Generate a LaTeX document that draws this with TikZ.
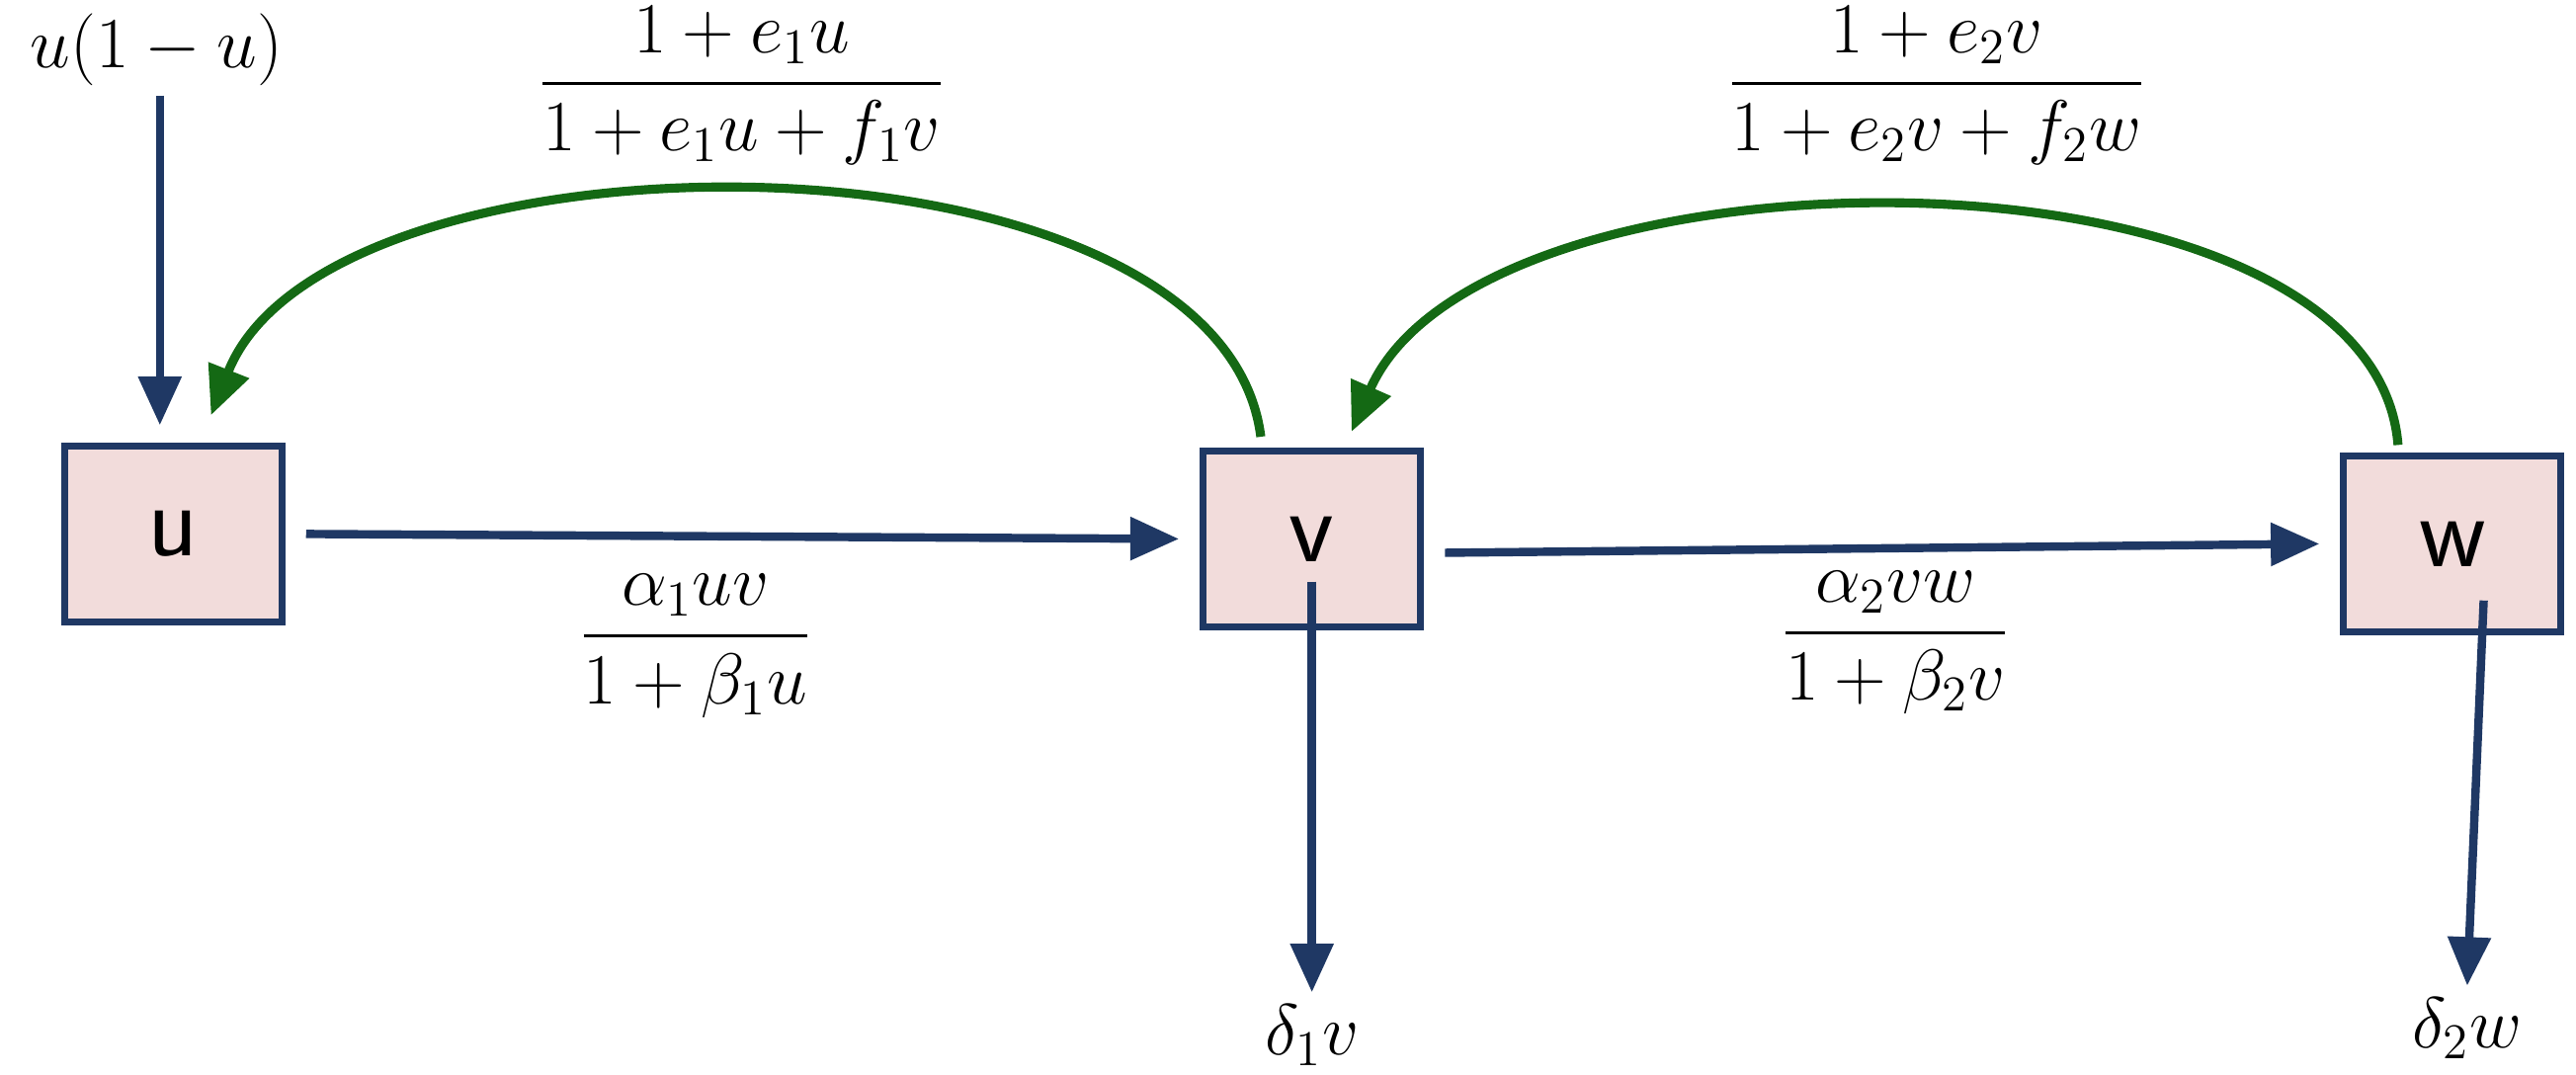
\documentclass[tikz,border=0pt]{standalone}
\usepackage{amsmath}
\usepackage{tikz}
\usetikzlibrary{arrows.meta}
\definecolor{navy}{RGB}{31,56,100}
\definecolor{fbgreen}{RGB}{20,105,20}
\definecolor{boxfill}{RGB}{242,220,219}
\begin{document}
\begin{tikzpicture}[x=0.01668cm,y=-0.01668cm,
    box/.style={draw=navy,line width=2pt,fill=boxfill,minimum width=2.2cm,minimum height=1.78cm,font=\sffamily\fontsize{30}{34}\selectfont},
    flow/.style={navy,line width=2.4pt,-{Triangle[length=14pt,width=12pt]}},
    back/.style={fbgreen,line width=2.6pt,-{Triangle[length=14pt,width=12pt]}},
    lbl/.style={font=\fontsize{20}{24}\selectfont}]
  \useasboundingbox (0,0) rectangle (1563,652);
  % compartments
  \node[box] (u) at (105,324) {u};
  \node[box] (v) at (796,327) {v};
  \node[box] (w) at (1488,330) {w};
  % labels
  \node[lbl] (growth) at (95,30) {$u(1-u)$};
  \node[lbl] (fuv) at (422,392) {$\dfrac{\alpha_1 uv}{1+\beta_1 u}$};
  \node[lbl] (fvw) at (1150,390) {$\dfrac{\alpha_2 vw}{1+\beta_2 v}$};
  \node[lbl] (gu) at (450,52) {$\dfrac{1+e_1u}{1+e_1u+f_1v}$};
  \node[lbl] (gv) at (1175,52) {$\dfrac{1+e_2v}{1+e_2v+f_2w}$};
  \node[lbl] (dv) at (796,628) {$\delta_1 v$};
  \node[lbl] (dw) at (1497,624) {$\delta_2 w$};
  % flows
  \coordinate (uin) at (97,58);
  \coordinate (uend) at (97,258);
  \draw[flow] (uin) -- (uend);
  \draw[flow] ([xshift=6]u.east) -- ([xshift=-6]v.west);
  \draw[flow] ([xshift=6,yshift=-4]v.east) -- ([xshift=-6]w.west);
  \draw[flow] ([yshift=14]v.south) -- (dv.north);
  \draw[flow] ([xshift=9,yshift=10]w.south) -- (dw.north);
  % feedback
  \coordinate (vtop) at (765,265);
  \coordinate (utip) at (128,252);
  \coordinate (wtop) at (1455,270);
  \coordinate (vtip) at (820,262);
  \draw[back] (vtop) .. controls (740,70) and (200,70) .. (utip);
  \draw[back] (wtop) .. controls (1440,80) and (900,80) .. (vtip);
\end{tikzpicture}
\end{document}
